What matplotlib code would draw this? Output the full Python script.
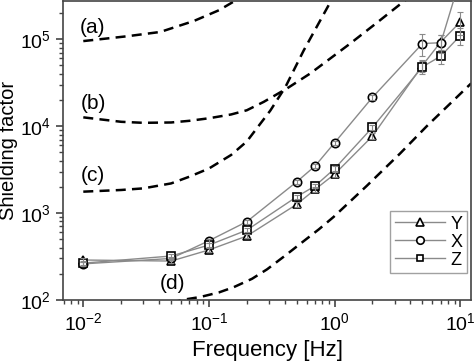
import matplotlib
matplotlib.use("Agg")
import matplotlib.pyplot as plt
from matplotlib.ticker import LogLocator, NullFormatter

# ---- data ----
freq = [0.01, 0.05, 0.1, 0.2, 0.5, 0.7, 1.0, 2.0, 5.0, 7.0, 10.0]
sf_Y = [288, 280, 376, 543, 1260, 1870, 2800, 7670, 50000, 93000, 158000]
sf_X = [260, 300, 480, 795, 2290, 3480, 6440, 21400, 89000, 91000, 500000]
sf_Z = [265, 320, 428, 635, 1540, 2050, 3240, 9660, 48000, 63800, 110000]
err_Y = [15, 15, 20, 30, 80, 120, 180, 600, 8000, 18000, 45000]
err_X = [15, 15, 25, 40, 120, 180, 350, 1200, 25000, 22000, 80000]
err_Z = [15, 15, 25, 35, 90, 120, 200, 700, 8000, 12000, 25000]

freq_a = [0.01, 0.0224, 0.041, 0.076, 0.12, 0.157, 0.2]
sf_a = [9.5e4, 1.08e5, 1.21e5, 1.62e5, 2.15e5, 2.7e5, 3.3e5]

freq_b = [0.01, 0.02, 0.03, 0.05, 0.07, 0.1, 0.15, 0.2, 0.273, 0.418, 0.64, 1.33, 2.2, 3.53, 4.5]
sf_b = [1.26e4, 1.12e4, 1.09e4, 1.1e4, 1.15e4, 1.23e4, 1.36e4, 1.52e4, 1.9e4, 2.71e4,
        4.03e4, 8.9e4, 1.57e5, 2.7e5, 3.5e5]

freq_c = [0.01, 0.02, 0.03, 0.05, 0.07, 0.1, 0.15, 0.2, 0.308, 0.406, 0.567, 0.895, 1.0]
sf_c = [1760, 1840, 1920, 2190, 2620, 3250, 4650, 6650, 15100, 28200, 74000, 245000, 330000]

freq_d = [0.05, 0.061, 0.085, 0.12, 0.157, 0.22, 0.29, 0.4, 0.53, 0.75, 0.98, 1.8, 3.3, 5.42, 12.2]
sf_d = [92, 100, 108, 122, 140, 175, 225, 320, 440, 650, 900, 2050, 4800, 10000, 31000]

curve_labels = ["(a)", "(b)", "(c)", "(d)"]
series_labels = ["Y", "X", "Z"]

# ---- style ----
plt.rcParams['font.family'] = ['Liberation Sans', 'DejaVu Sans']
plt.rcParams['mathtext.default'] = 'regular'

fig = plt.figure(figsize=(4.74, 3.64), dpi=100)
ax = fig.add_axes([0.133, 0.176, 0.861, 0.821])
ax.set_xscale('log')
ax.set_yscale('log')
ax.set_xlim(0.0069, 12.2)
ax.set_ylim(100, 2.74e5)

dash = dict(color='black', lw=1.8, linestyle=(0, (4, 2.5)))
for fx, fy in [(freq_a, sf_a), (freq_b, sf_b), (freq_c, sf_c), (freq_d, sf_d)]:
    ax.plot(fx, fy, **dash, zorder=2)

label_pos = [(0.071, 0.913), (0.0735, 0.656), (0.0735, 0.415), (0.267, 0.054)]
for lab, (tx, ty) in zip(curve_labels, label_pos):
    ax.text(tx, ty, lab, transform=ax.transAxes, fontsize=15,
            ha='center', va='center')

markers = {'Y': '^', 'X': 'o', 'Z': 's'}
handles = []
for name, vals, errs in [('Y', sf_Y, err_Y), ('X', sf_X, err_X), ('Z', sf_Z, err_Z)]:
    h, = ax.plot(freq, vals, color='#8a8a8a', lw=1.0, marker=markers[name],
                 ms=6 if name != 'Z' else 5.5, mfc='white', mec='black', mew=1.2,
                 label=name, zorder=3)
    ax.errorbar(freq, vals, yerr=errs, fmt='none', ecolor='#8a8a8a',
                elinewidth=0.8, capsize=2.5, capthick=0.8, zorder=4)
    handles.append(h)

leg = ax.legend(handles=handles, labels=series_labels, loc='lower right',
                bbox_to_anchor=(0.99, 0.09), borderaxespad=0, fontsize=13,
                frameon=True, fancybox=False, edgecolor='#8a8a8a',
                handlelength=2.8, handletextpad=0.3, labelspacing=0.05,
                borderpad=0.25, markerscale=0.9)
leg.get_frame().set_linewidth(1.0)

for sp in ax.spines.values():
    sp.set_color('#444444')
    sp.set_linewidth(1.2)

ax.xaxis.set_major_locator(LogLocator(base=10, numticks=10))
ax.xaxis.set_minor_locator(LogLocator(base=10, subs=range(2, 10), numticks=20))
ax.xaxis.set_minor_formatter(NullFormatter())
ax.yaxis.set_major_locator(LogLocator(base=10, numticks=10))
ax.yaxis.set_minor_locator(LogLocator(base=10, subs=range(2, 10), numticks=20))
ax.yaxis.set_minor_formatter(NullFormatter())
ax.tick_params(which='major', direction='out', length=5, width=1.2, labelsize=14,
               colors='#444444', labelcolor='black', pad=4)
ax.tick_params(which='minor', direction='out', length=3, width=1.0, colors='#444444')

ax.set_xlabel('Frequency [Hz]', fontsize=16, labelpad=4)
ax.set_ylabel('Shielding factor', fontsize=14.5, labelpad=1)

fig.savefig('out.png', dpi=100)
